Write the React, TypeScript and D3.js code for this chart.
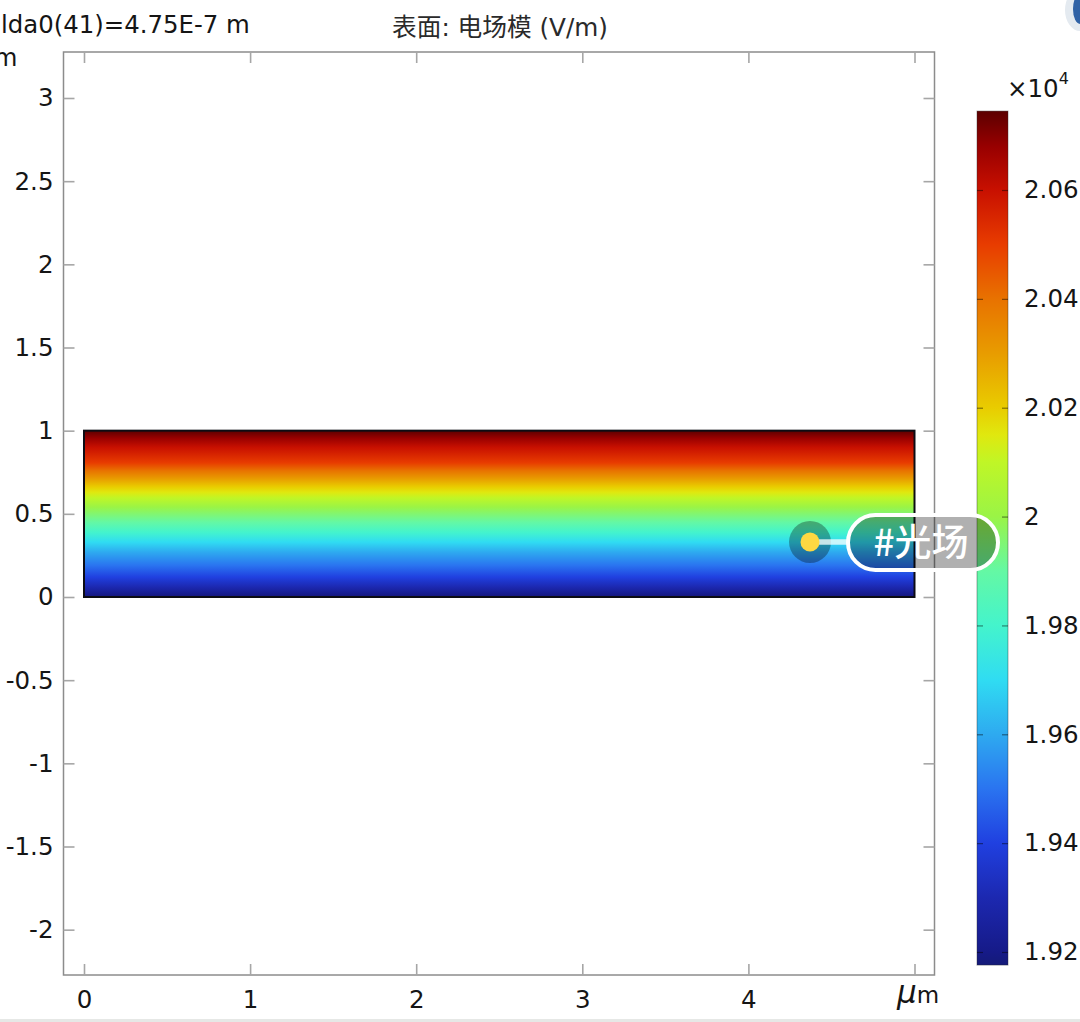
import React, { useEffect, useRef } from 'react';
import * as d3 from 'd3';

const xTicks = [0, 1, 2, 3, 4, 5];
const yTicks = [-2, -1.5, -1, -0.5, 0, 0.5, 1, 1.5, 2, 2.5, 3];
const barTicks = [1.92, 1.94, 1.96, 1.98, 2, 2.02, 2.04, 2.06];

// colour table of the legend, value (x10^4 V/m) -> colour
const cmapValues = [1.9176, 1.92, 1.93, 1.94, 1.95, 1.96, 1.97, 1.98, 1.99, 2, 2.01, 2.015, 2.02, 2.03, 2.04, 2.05, 2.06, 2.068, 2.0745];
const cmapColors = ['#141a78', '#161a88', '#1c28b0', '#2040e0', '#2a74f0', '#2eaaf0', '#30dcf2', '#44f4cc', '#64f8a4', '#9af446', '#c0f626', '#e0e80f', '#e9cc00', '#e89c00', '#e87200', '#e83c00', '#c81000', '#980000', '#5c0000'];

// field read along the height of the rectangle, um -> x10^4 V/m
const profileY = [0, 0.012, 0.06, 0.12, 0.19, 0.27, 0.33, 0.39, 0.45, 0.54, 0.596, 0.663, 0.76, 0.807, 0.9, 1];
const profileV = [1.9176, 1.92, 1.93, 1.94, 1.95, 1.96, 1.97, 1.98, 1.99, 2, 2.01, 2.02, 2.04, 2.05, 2.06, 2.0745];

const rectX = [0, 5];
const rectY = [0, 1];
const barDomain = [1.9176, 2.0745];

const font = '"DejaVu Sans", "Noto Sans CJK SC", sans-serif';

export default function App() {
  const svgRef = useRef<SVGSVGElement>(null);

  useEffect(() => {
    const svg = d3.select(svgRef.current);
    svg.selectAll('*').remove();

    const frame = { left: 63.5, right: 934.5, top: 52, bottom: 975 };
    const x = d3.scaleLinear().domain([0, 5]).range([84, 914.5]);
    const y = d3.scaleLinear().domain([0, 3]).range([597, 98]);
    const barY = d3.scaleLinear().domain([1.92, 2.06]).range([952, 190]);
    const posOfValue = d3.scaleLinear().domain(profileV).range(profileY);

    const defs = svg.append('defs');
    const barGrad = defs.append('linearGradient').attr('id', 'barGrad').attr('x1', 0).attr('x2', 0).attr('y1', 1).attr('y2', 0);
    const fieldGrad = defs.append('linearGradient').attr('id', 'fieldGrad').attr('x1', 0).attr('x2', 0).attr('y1', 1).attr('y2', 0);
    cmapValues.forEach((v, i) => {
      barGrad.append('stop')
        .attr('offset', (v - barDomain[0]) / (barDomain[1] - barDomain[0]))
        .attr('stop-color', cmapColors[i]);
      fieldGrad.append('stop')
        .attr('offset', posOfValue(v))
        .attr('stop-color', cmapColors[i]);
    });

    // plot frame
    svg.append('rect')
      .attr('x', frame.left)
      .attr('y', frame.top)
      .attr('width', frame.right - frame.left)
      .attr('height', frame.bottom - frame.top)
      .attr('fill', 'none')
      .attr('stroke', '#8c8c8c')
      .attr('stroke-width', 1.5);

    const styleAxis = (g: any) => {
      g.select('.domain').remove();
      g.selectAll('.tick line').attr('stroke', '#a6a6a6').attr('stroke-width', 1.6);
      g.selectAll('.tick text').attr('fill', '#151515').style('font-family', font).style('font-size', '24.5px');
    };
    const num = (d: any) => String(d);
    const xLabel = (d: any) => (d === 5 ? '' : String(d));

    svg.append('g').attr('transform', `translate(0,${frame.bottom})`)
      .call(d3.axisBottom(x).tickValues(xTicks).tickSizeInner(-11).tickSizeOuter(0).tickPadding(16).tickFormat(xLabel))
      .call(styleAxis);
    svg.append('g').attr('transform', `translate(0,${frame.top})`)
      .call(d3.axisTop(x).tickValues(xTicks).tickSizeInner(-11).tickSizeOuter(0).tickFormat(() => ''))
      .call(styleAxis);
    svg.append('g').attr('transform', `translate(${frame.left},0)`)
      .call(d3.axisLeft(y).tickValues(yTicks).tickSizeInner(-11).tickSizeOuter(0).tickPadding(10).tickFormat(num))
      .call(styleAxis);
    svg.append('g').attr('transform', `translate(${frame.right},0)`)
      .call(d3.axisRight(y).tickValues(yTicks).tickSizeInner(-11).tickSizeOuter(0).tickFormat(() => ''))
      .call(styleAxis);

    // the field rectangle
    svg.append('rect')
      .attr('x', x(rectX[0]))
      .attr('y', y(rectY[1]))
      .attr('width', x(rectX[1]) - x(rectX[0]))
      .attr('height', y(rectY[0]) - y(rectY[1]))
      .attr('fill', 'url(#fieldGrad)')
      .attr('stroke', '#0c0c14')
      .attr('stroke-width', 2);

    // colour legend
    const barLeft = 977;
    const barRight = 1008;
    svg.append('rect')
      .attr('x', barLeft)
      .attr('y', barY(barDomain[1]))
      .attr('width', barRight - barLeft)
      .attr('height', barY(barDomain[0]) - barY(barDomain[1]))
      .attr('fill', 'url(#barGrad)')
      .attr('stroke', 'rgba(40,40,40,0.4)')
      .attr('stroke-width', 1);

    const styleBar = (g: any) => {
      g.select('.domain').remove();
      g.selectAll('.tick line').attr('stroke', 'rgba(0,0,0,0.45)').attr('stroke-width', 1.2);
      g.selectAll('.tick text').attr('fill', '#151515').style('font-family', font).style('font-size', '24.5px');
    };
    svg.append('g').attr('transform', `translate(${barRight},0)`)
      .call(d3.axisRight(barY).tickValues(barTicks).tickSizeInner(-6).tickSizeOuter(0).tickPadding(16).tickFormat(num))
      .call(styleBar);
    svg.append('g').attr('transform', `translate(${barLeft},0)`)
      .call(d3.axisLeft(barY).tickValues(barTicks).tickSizeInner(-6).tickSizeOuter(0).tickFormat(() => ''))
      .call(styleBar);

    const label = (tx: number, ty: number, s: string, size: number, fill = '#151515') =>
      svg.append('text')
        .attr('x', tx)
        .attr('y', ty)
        .attr('fill', fill)
        .style('font-family', font)
        .style('font-size', `${size}px`)
        .text(s);

    label(1, 33, 'lda0(41)=4.75E-7 m', 24.4);
    label(500, 36, '表面: 电场模 (V/m)', 24.7, '#2a2a2a').attr('text-anchor', 'middle');
    label(-6, 66, 'm', 24);

    const power = label(1007, 97, '', 24.5);
    power.append('tspan').text('×10');
    power.append('tspan').attr('dy', -13).style('font-size', '16px').text('4');

    const um = label(897, 1003, '', 23);
    um.append('tspan').style('font-style', 'italic').style('font-size', '31px').text('μ');
    um.append('tspan').text('m');

    // page strip at the bottom and the cut off badge at the top right
    svg.append('rect').attr('x', 0).attr('y', 1019).attr('width', 1080).attr('height', 3).attr('fill', '#e6e8e6');
    svg.append('ellipse').attr('cx', 1080).attr('cy', 10).attr('rx', 15).attr('ry', 21).attr('fill', '#e4eaf0');
    svg.append('ellipse').attr('cx', 1080).attr('cy', 9).attr('rx', 7).attr('ry', 15).attr('fill', '#2f62a6');

    // hotspot tag
    const tag = svg.append('g');
    tag.append('circle').attr('cx', 810).attr('cy', 542).attr('r', 21).attr('fill', 'rgba(0,0,0,0.31)');
    tag.append('line').attr('x1', 819).attr('x2', 850).attr('y1', 542).attr('y2', 542)
      .attr('stroke', 'rgba(255,255,255,0.75)').attr('stroke-width', 5.5);
    tag.append('circle').attr('cx', 810).attr('cy', 542).attr('r', 9.5).attr('fill', '#fdd842');
    tag.append('rect')
      .attr('x', 848)
      .attr('y', 515)
      .attr('width', 150)
      .attr('height', 55)
      .attr('rx', 27.5)
      .attr('fill', 'rgba(0,0,0,0.31)')
      .attr('stroke', '#ffffff')
      .attr('stroke-width', 4);
    tag.append('text')
      .attr('x', 921)
      .attr('y', 556)
      .attr('text-anchor', 'middle')
      .attr('fill', '#ffffff')
      .style('font-family', '"Noto Sans CJK SC", sans-serif')
      .style('font-weight', 500)
      .style('font-size', '37px')
      .text('#光场');
  }, []);

  return (
    <svg
      ref={svgRef}
      width={1080}
      height={1022}
      style={{ position: 'absolute', left: 0, top: 0, background: '#ffffff' }}
    />
  );
}
